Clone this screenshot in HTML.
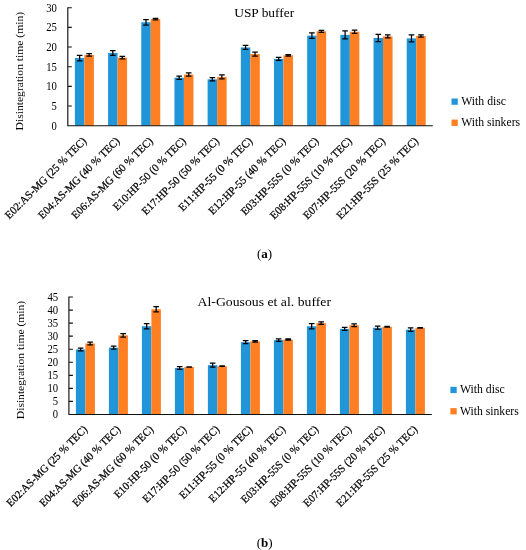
<!DOCTYPE html>
<html><head><meta charset="utf-8"><title>Disintegration time</title>
<style>html,body{margin:0;padding:0;background:#fff}svg{display:block}text{font-family:"Liberation Serif",serif;fill:#000}.xl{stroke:#000;stroke-width:0.25px}</style>
</head><body>
<svg width="526" height="550" viewBox="0 0 526 550">
<rect width="526" height="550" fill="#fff"/>
<rect x="74.89" y="58.05" width="9.5" height="67.65" fill="#2096d8"/>
<rect x="84.39" y="54.90" width="9.5" height="70.80" fill="#ff7f22"/>
<path d="M79.64 55.29V60.80M76.84 55.29h5.6M76.84 60.80h5.6" stroke="#000" stroke-width="1.25" fill="none"/>
<path d="M89.14 53.72V56.08M86.34 53.72h5.6M86.34 56.08h5.6" stroke="#000" stroke-width="1.25" fill="none"/>
<rect x="108.07" y="52.93" width="9.5" height="72.77" fill="#2096d8"/>
<rect x="117.57" y="57.65" width="9.5" height="68.05" fill="#ff7f22"/>
<path d="M112.82 50.57V55.29M110.02 50.57h5.6M110.02 55.29h5.6" stroke="#000" stroke-width="1.25" fill="none"/>
<path d="M122.32 56.47V58.83M119.52 56.47h5.6M119.52 58.83h5.6" stroke="#000" stroke-width="1.25" fill="none"/>
<rect x="141.25" y="22.25" width="9.5" height="103.45" fill="#2096d8"/>
<rect x="150.75" y="19.11" width="9.5" height="106.59" fill="#ff7f22"/>
<path d="M146.00 19.50V25.01M143.20 19.50h5.6M143.20 25.01h5.6" stroke="#000" stroke-width="1.25" fill="none"/>
<path d="M155.50 18.32V19.89M152.70 18.32h5.6M152.70 19.89h5.6" stroke="#000" stroke-width="1.25" fill="none"/>
<rect x="174.44" y="77.71" width="9.5" height="47.99" fill="#2096d8"/>
<rect x="183.94" y="74.57" width="9.5" height="51.13" fill="#ff7f22"/>
<path d="M179.19 76.14V79.29M176.39 76.14h5.6M176.39 79.29h5.6" stroke="#000" stroke-width="1.25" fill="none"/>
<path d="M188.69 72.99V76.14M185.89 72.99h5.6M185.89 76.14h5.6" stroke="#000" stroke-width="1.25" fill="none"/>
<rect x="207.62" y="79.29" width="9.5" height="46.41" fill="#2096d8"/>
<rect x="217.12" y="76.93" width="9.5" height="48.77" fill="#ff7f22"/>
<path d="M212.37 77.71V80.86M209.57 77.71h5.6M209.57 80.86h5.6" stroke="#000" stroke-width="1.25" fill="none"/>
<path d="M221.87 74.96V78.89M219.07 74.96h5.6M219.07 78.89h5.6" stroke="#000" stroke-width="1.25" fill="none"/>
<rect x="240.80" y="47.43" width="9.5" height="78.27" fill="#2096d8"/>
<rect x="250.30" y="54.11" width="9.5" height="71.59" fill="#ff7f22"/>
<path d="M245.55 45.46V49.39M242.75 45.46h5.6M242.75 49.39h5.6" stroke="#000" stroke-width="1.25" fill="none"/>
<path d="M255.05 52.15V56.08M252.25 52.15h5.6M252.25 56.08h5.6" stroke="#000" stroke-width="1.25" fill="none"/>
<rect x="273.98" y="58.83" width="9.5" height="66.87" fill="#2096d8"/>
<rect x="283.48" y="55.29" width="9.5" height="70.41" fill="#ff7f22"/>
<path d="M278.73 57.26V60.41M275.93 57.26h5.6M275.93 60.41h5.6" stroke="#000" stroke-width="1.25" fill="none"/>
<path d="M288.23 54.51V56.08M285.43 54.51h5.6M285.43 56.08h5.6" stroke="#000" stroke-width="1.25" fill="none"/>
<rect x="307.16" y="35.63" width="9.5" height="90.07" fill="#2096d8"/>
<rect x="316.66" y="31.30" width="9.5" height="94.40" fill="#ff7f22"/>
<path d="M311.91 32.87V38.38M309.11 32.87h5.6M309.11 38.38h5.6" stroke="#000" stroke-width="1.25" fill="none"/>
<path d="M321.41 30.32V32.28M318.61 30.32h5.6M318.61 32.28h5.6" stroke="#000" stroke-width="1.25" fill="none"/>
<rect x="340.35" y="34.84" width="9.5" height="90.86" fill="#2096d8"/>
<rect x="349.85" y="31.69" width="9.5" height="94.01" fill="#ff7f22"/>
<path d="M345.10 30.91V38.77M342.30 30.91h5.6M342.30 38.77h5.6" stroke="#000" stroke-width="1.25" fill="none"/>
<path d="M354.60 30.12V33.27M351.80 30.12h5.6M351.80 33.27h5.6" stroke="#000" stroke-width="1.25" fill="none"/>
<rect x="373.53" y="37.99" width="9.5" height="87.71" fill="#2096d8"/>
<rect x="383.03" y="36.41" width="9.5" height="89.29" fill="#ff7f22"/>
<path d="M378.28 34.45V41.53M375.48 34.45h5.6M375.48 41.53h5.6" stroke="#000" stroke-width="1.25" fill="none"/>
<path d="M387.78 34.84V37.99M384.98 34.84h5.6M384.98 37.99h5.6" stroke="#000" stroke-width="1.25" fill="none"/>
<rect x="406.71" y="38.38" width="9.5" height="87.32" fill="#2096d8"/>
<rect x="416.21" y="36.02" width="9.5" height="89.68" fill="#ff7f22"/>
<path d="M411.46 34.84V41.92M408.66 34.84h5.6M408.66 41.92h5.6" stroke="#000" stroke-width="1.25" fill="none"/>
<path d="M420.96 34.84V37.20M418.16 34.84h5.6M418.16 37.20h5.6" stroke="#000" stroke-width="1.25" fill="none"/>
<path d="M67.80 7.20V125.70H432.80M67.80 125.70h4M67.80 106.03h4M67.80 86.37h4M67.80 66.70h4M67.80 47.03h4M67.80 27.37h4M67.80 7.70h4" stroke="#111" stroke-width="1.15" fill="none"/>
<text x="56.9" y="129.6" text-anchor="end" textLength="5.3" lengthAdjust="spacingAndGlyphs" font-size="11.8">0</text>
<text x="56.9" y="109.9" text-anchor="end" textLength="5.3" lengthAdjust="spacingAndGlyphs" font-size="11.8">5</text>
<text x="56.9" y="90.3" text-anchor="end" textLength="10.7" lengthAdjust="spacingAndGlyphs" font-size="11.8">10</text>
<text x="56.9" y="70.6" text-anchor="end" textLength="10.7" lengthAdjust="spacingAndGlyphs" font-size="11.8">15</text>
<text x="56.9" y="50.9" text-anchor="end" textLength="10.7" lengthAdjust="spacingAndGlyphs" font-size="11.8">20</text>
<text x="56.9" y="31.3" text-anchor="end" textLength="10.7" lengthAdjust="spacingAndGlyphs" font-size="11.8">25</text>
<text x="56.9" y="11.6" text-anchor="end" textLength="10.7" lengthAdjust="spacingAndGlyphs" font-size="11.8">30</text>
<text transform="translate(87.1 141.6) rotate(-45)" x="-110.0" textLength="110.0" lengthAdjust="spacingAndGlyphs" font-size="11" class="xl">E02:AS-MG (25 % TEC)</text>
<text transform="translate(120.3 141.6) rotate(-45)" x="-110.0" textLength="110.0" lengthAdjust="spacingAndGlyphs" font-size="11" class="xl">E04:AS-MG (40 % TEC)</text>
<text transform="translate(153.5 141.6) rotate(-45)" x="-110.0" textLength="110.0" lengthAdjust="spacingAndGlyphs" font-size="11" class="xl">E06:AS-MG (60 % TEC)</text>
<text transform="translate(186.6 141.6) rotate(-45)" x="-98.1" textLength="98.1" lengthAdjust="spacingAndGlyphs" font-size="11" class="xl">E10:HP-50 (0 % TEC)</text>
<text transform="translate(219.8 141.6) rotate(-45)" x="-104.5" textLength="104.5" lengthAdjust="spacingAndGlyphs" font-size="11" class="xl">E17:HP-50 (50 % TEC)</text>
<text transform="translate(253.0 141.6) rotate(-45)" x="-99.2" textLength="99.2" lengthAdjust="spacingAndGlyphs" font-size="11" class="xl">E11:HP-55 (0 % TEC)</text>
<text transform="translate(286.2 141.6) rotate(-45)" x="-104.0" textLength="104.0" lengthAdjust="spacingAndGlyphs" font-size="11" class="xl">E12:HP-55 (40 % TEC)</text>
<text transform="translate(319.4 141.6) rotate(-45)" x="-105.0" textLength="105.0" lengthAdjust="spacingAndGlyphs" font-size="11" class="xl">E03:HP-55S (0 % TEC)</text>
<text transform="translate(352.5 141.6) rotate(-45)" x="-110.5" textLength="110.5" lengthAdjust="spacingAndGlyphs" font-size="11" class="xl">E08:HP-55S (10 % TEC)</text>
<text transform="translate(385.7 141.6) rotate(-45)" x="-110.5" textLength="110.5" lengthAdjust="spacingAndGlyphs" font-size="11" class="xl">E07:HP-55S (20 % TEC)</text>
<text transform="translate(418.9 141.6) rotate(-45)" x="-110.5" textLength="110.5" lengthAdjust="spacingAndGlyphs" font-size="11" class="xl">E21:HP-55S (25 % TEC)</text>
<text transform="translate(22.8 130.4) rotate(-90)" textLength="118.5" lengthAdjust="spacingAndGlyphs" font-size="11">Disintegration time (min)</text>
<text x="234.2" y="17.4" textLength="60" lengthAdjust="spacingAndGlyphs" font-size="13">USP buffer</text>
<rect x="451.5" y="98.5" width="6.3" height="6.3" fill="#2096d8"/><text x="461.2" y="104.6" textLength="44.9" lengthAdjust="spacingAndGlyphs" font-size="11.5">With disc</text>
<rect x="451.5" y="119.6" width="6.3" height="6.3" fill="#ff7f22"/><text x="461.2" y="125.7" textLength="58.9" lengthAdjust="spacingAndGlyphs" font-size="11.5">With sinkers</text>
<text x="264.6" y="257.5" text-anchor="middle" font-size="13">(<tspan font-weight="bold">a</tspan>)</text>
<rect x="75.90" y="349.48" width="9.5" height="65.02" fill="#2096d8"/>
<rect x="85.40" y="343.48" width="9.5" height="71.02" fill="#ff7f22"/>
<path d="M80.65 348.18V350.79M77.85 348.18h5.6M77.85 350.79h5.6" stroke="#000" stroke-width="1.25" fill="none"/>
<path d="M90.15 342.17V344.78M87.35 342.17h5.6M87.35 344.78h5.6" stroke="#000" stroke-width="1.25" fill="none"/>
<rect x="108.90" y="347.66" width="9.5" height="66.84" fill="#2096d8"/>
<rect x="118.40" y="335.38" width="9.5" height="79.12" fill="#ff7f22"/>
<path d="M113.65 346.09V349.22M110.85 346.09h5.6M110.85 349.22h5.6" stroke="#000" stroke-width="1.25" fill="none"/>
<path d="M123.15 333.56V337.21M120.35 333.56h5.6M120.35 337.21h5.6" stroke="#000" stroke-width="1.25" fill="none"/>
<rect x="141.90" y="326.24" width="9.5" height="88.26" fill="#2096d8"/>
<rect x="151.40" y="309.27" width="9.5" height="105.23" fill="#ff7f22"/>
<path d="M146.65 323.63V328.86M143.85 323.63h5.6M143.85 328.86h5.6" stroke="#000" stroke-width="1.25" fill="none"/>
<path d="M156.15 306.66V311.88M153.35 306.66h5.6M153.35 311.88h5.6" stroke="#000" stroke-width="1.25" fill="none"/>
<rect x="174.90" y="368.02" width="9.5" height="46.48" fill="#2096d8"/>
<rect x="184.40" y="366.98" width="9.5" height="47.52" fill="#ff7f22"/>
<path d="M179.65 366.72V369.33M176.85 366.72h5.6M176.85 369.33h5.6" stroke="#000" stroke-width="1.25" fill="none"/>
<path d="M189.15 366.77V367.19M186.35 366.77h5.6M186.35 367.19h5.6" stroke="#000" stroke-width="1.25" fill="none"/>
<rect x="207.90" y="365.15" width="9.5" height="49.35" fill="#2096d8"/>
<rect x="217.40" y="366.19" width="9.5" height="48.31" fill="#ff7f22"/>
<path d="M212.65 363.06V367.24M209.85 363.06h5.6M209.85 367.24h5.6" stroke="#000" stroke-width="1.25" fill="none"/>
<path d="M222.15 365.99V366.40M219.35 365.99h5.6M219.35 366.40h5.6" stroke="#000" stroke-width="1.25" fill="none"/>
<rect x="240.90" y="342.17" width="9.5" height="72.33" fill="#2096d8"/>
<rect x="250.40" y="341.39" width="9.5" height="73.11" fill="#ff7f22"/>
<path d="M245.65 340.74V343.61M242.85 340.74h5.6M242.85 343.61h5.6" stroke="#000" stroke-width="1.25" fill="none"/>
<path d="M255.15 340.61V342.17M252.35 340.61h5.6M252.35 342.17h5.6" stroke="#000" stroke-width="1.25" fill="none"/>
<rect x="273.90" y="340.08" width="9.5" height="74.42" fill="#2096d8"/>
<rect x="283.40" y="339.56" width="9.5" height="74.94" fill="#ff7f22"/>
<path d="M278.65 338.78V341.39M275.85 338.78h5.6M275.85 341.39h5.6" stroke="#000" stroke-width="1.25" fill="none"/>
<path d="M288.15 338.91V340.21M285.35 338.91h5.6M285.35 340.21h5.6" stroke="#000" stroke-width="1.25" fill="none"/>
<rect x="306.90" y="326.24" width="9.5" height="88.26" fill="#2096d8"/>
<rect x="316.40" y="323.11" width="9.5" height="91.39" fill="#ff7f22"/>
<path d="M311.65 323.63V328.86M308.85 323.63h5.6M308.85 328.86h5.6" stroke="#000" stroke-width="1.25" fill="none"/>
<path d="M321.15 321.81V324.42M318.35 321.81h5.6M318.35 324.42h5.6" stroke="#000" stroke-width="1.25" fill="none"/>
<rect x="339.90" y="328.86" width="9.5" height="85.64" fill="#2096d8"/>
<rect x="349.40" y="325.20" width="9.5" height="89.30" fill="#ff7f22"/>
<path d="M344.65 327.42V330.29M341.85 327.42h5.6M341.85 330.29h5.6" stroke="#000" stroke-width="1.25" fill="none"/>
<path d="M354.15 323.89V326.51M351.35 323.89h5.6M351.35 326.51h5.6" stroke="#000" stroke-width="1.25" fill="none"/>
<rect x="372.90" y="327.81" width="9.5" height="86.69" fill="#2096d8"/>
<rect x="382.40" y="326.77" width="9.5" height="87.73" fill="#ff7f22"/>
<path d="M377.65 326.24V329.38M374.85 326.24h5.6M374.85 329.38h5.6" stroke="#000" stroke-width="1.25" fill="none"/>
<path d="M387.15 326.38V327.16M384.35 326.38h5.6M384.35 327.16h5.6" stroke="#000" stroke-width="1.25" fill="none"/>
<rect x="405.90" y="329.64" width="9.5" height="84.86" fill="#2096d8"/>
<rect x="415.40" y="327.81" width="9.5" height="86.69" fill="#ff7f22"/>
<path d="M410.65 327.81V331.47M407.85 327.81h5.6M407.85 331.47h5.6" stroke="#000" stroke-width="1.25" fill="none"/>
<path d="M420.15 327.55V328.07M417.35 327.55h5.6M417.35 328.07h5.6" stroke="#000" stroke-width="1.25" fill="none"/>
<path d="M68.90 296.50V414.50H431.90M68.90 414.50h4M68.90 401.44h4M68.90 388.39h4M68.90 375.33h4M68.90 362.28h4M68.90 349.22h4M68.90 336.17h4M68.90 323.11h4M68.90 310.06h4M68.90 297.00h4" stroke="#111" stroke-width="1.15" fill="none"/>
<text x="58.1" y="418.4" text-anchor="end" textLength="5.3" lengthAdjust="spacingAndGlyphs" font-size="11.8">0</text>
<text x="58.1" y="405.3" text-anchor="end" textLength="5.3" lengthAdjust="spacingAndGlyphs" font-size="11.8">5</text>
<text x="58.1" y="392.3" text-anchor="end" textLength="10.7" lengthAdjust="spacingAndGlyphs" font-size="11.8">10</text>
<text x="58.1" y="379.2" text-anchor="end" textLength="10.7" lengthAdjust="spacingAndGlyphs" font-size="11.8">15</text>
<text x="58.1" y="366.2" text-anchor="end" textLength="10.7" lengthAdjust="spacingAndGlyphs" font-size="11.8">20</text>
<text x="58.1" y="353.1" text-anchor="end" textLength="10.7" lengthAdjust="spacingAndGlyphs" font-size="11.8">25</text>
<text x="58.1" y="340.1" text-anchor="end" textLength="10.7" lengthAdjust="spacingAndGlyphs" font-size="11.8">30</text>
<text x="58.1" y="327.0" text-anchor="end" textLength="10.7" lengthAdjust="spacingAndGlyphs" font-size="11.8">35</text>
<text x="58.1" y="314.0" text-anchor="end" textLength="10.7" lengthAdjust="spacingAndGlyphs" font-size="11.8">40</text>
<text x="58.1" y="300.9" text-anchor="end" textLength="10.7" lengthAdjust="spacingAndGlyphs" font-size="11.8">45</text>
<text transform="translate(88.0 430.0) rotate(-45)" x="-109.1" textLength="109.1" lengthAdjust="spacingAndGlyphs" font-size="11" class="xl">E02:AS-MG (25 % TEC)</text>
<text transform="translate(121.0 430.0) rotate(-45)" x="-109.1" textLength="109.1" lengthAdjust="spacingAndGlyphs" font-size="11" class="xl">E04:AS-MG (40 % TEC)</text>
<text transform="translate(154.0 430.0) rotate(-45)" x="-109.1" textLength="109.1" lengthAdjust="spacingAndGlyphs" font-size="11" class="xl">E06:AS-MG (60 % TEC)</text>
<text transform="translate(187.0 430.0) rotate(-45)" x="-97.3" textLength="97.3" lengthAdjust="spacingAndGlyphs" font-size="11" class="xl">E10:HP-50 (0 % TEC)</text>
<text transform="translate(220.0 430.0) rotate(-45)" x="-103.7" textLength="103.7" lengthAdjust="spacingAndGlyphs" font-size="11" class="xl">E17:HP-50 (50 % TEC)</text>
<text transform="translate(253.0 430.0) rotate(-45)" x="-98.4" textLength="98.4" lengthAdjust="spacingAndGlyphs" font-size="11" class="xl">E11:HP-55 (0 % TEC)</text>
<text transform="translate(286.0 430.0) rotate(-45)" x="-103.2" textLength="103.2" lengthAdjust="spacingAndGlyphs" font-size="11" class="xl">E12:HP-55 (40 % TEC)</text>
<text transform="translate(319.0 430.0) rotate(-45)" x="-104.2" textLength="104.2" lengthAdjust="spacingAndGlyphs" font-size="11" class="xl">E03:HP-55S (0 % TEC)</text>
<text transform="translate(352.0 430.0) rotate(-45)" x="-109.6" textLength="109.6" lengthAdjust="spacingAndGlyphs" font-size="11" class="xl">E08:HP-55S (10 % TEC)</text>
<text transform="translate(385.0 430.0) rotate(-45)" x="-109.6" textLength="109.6" lengthAdjust="spacingAndGlyphs" font-size="11" class="xl">E07:HP-55S (20 % TEC)</text>
<text transform="translate(418.0 430.0) rotate(-45)" x="-109.6" textLength="109.6" lengthAdjust="spacingAndGlyphs" font-size="11" class="xl">E21:HP-55S (25 % TEC)</text>
<text transform="translate(23.8 419.2) rotate(-90)" textLength="118.4" lengthAdjust="spacingAndGlyphs" font-size="11">Disintegration time (min)</text>
<text x="197.6" y="306.1" textLength="133.4" lengthAdjust="spacingAndGlyphs" font-size="13">Al-Gousous et al. buffer</text>
<rect x="450.4" y="386.8" width="6.3" height="6.3" fill="#2096d8"/><text x="459.9" y="393.1" textLength="44.9" lengthAdjust="spacingAndGlyphs" font-size="11.5">With disc</text>
<rect x="450.4" y="408.1" width="6.3" height="6.3" fill="#ff7f22"/><text x="459.9" y="414.5" textLength="58.9" lengthAdjust="spacingAndGlyphs" font-size="11.5">With sinkers</text>
<text x="264.6" y="546.7" text-anchor="middle" font-size="13">(<tspan font-weight="bold">b</tspan>)</text>
</svg>
</body></html>
